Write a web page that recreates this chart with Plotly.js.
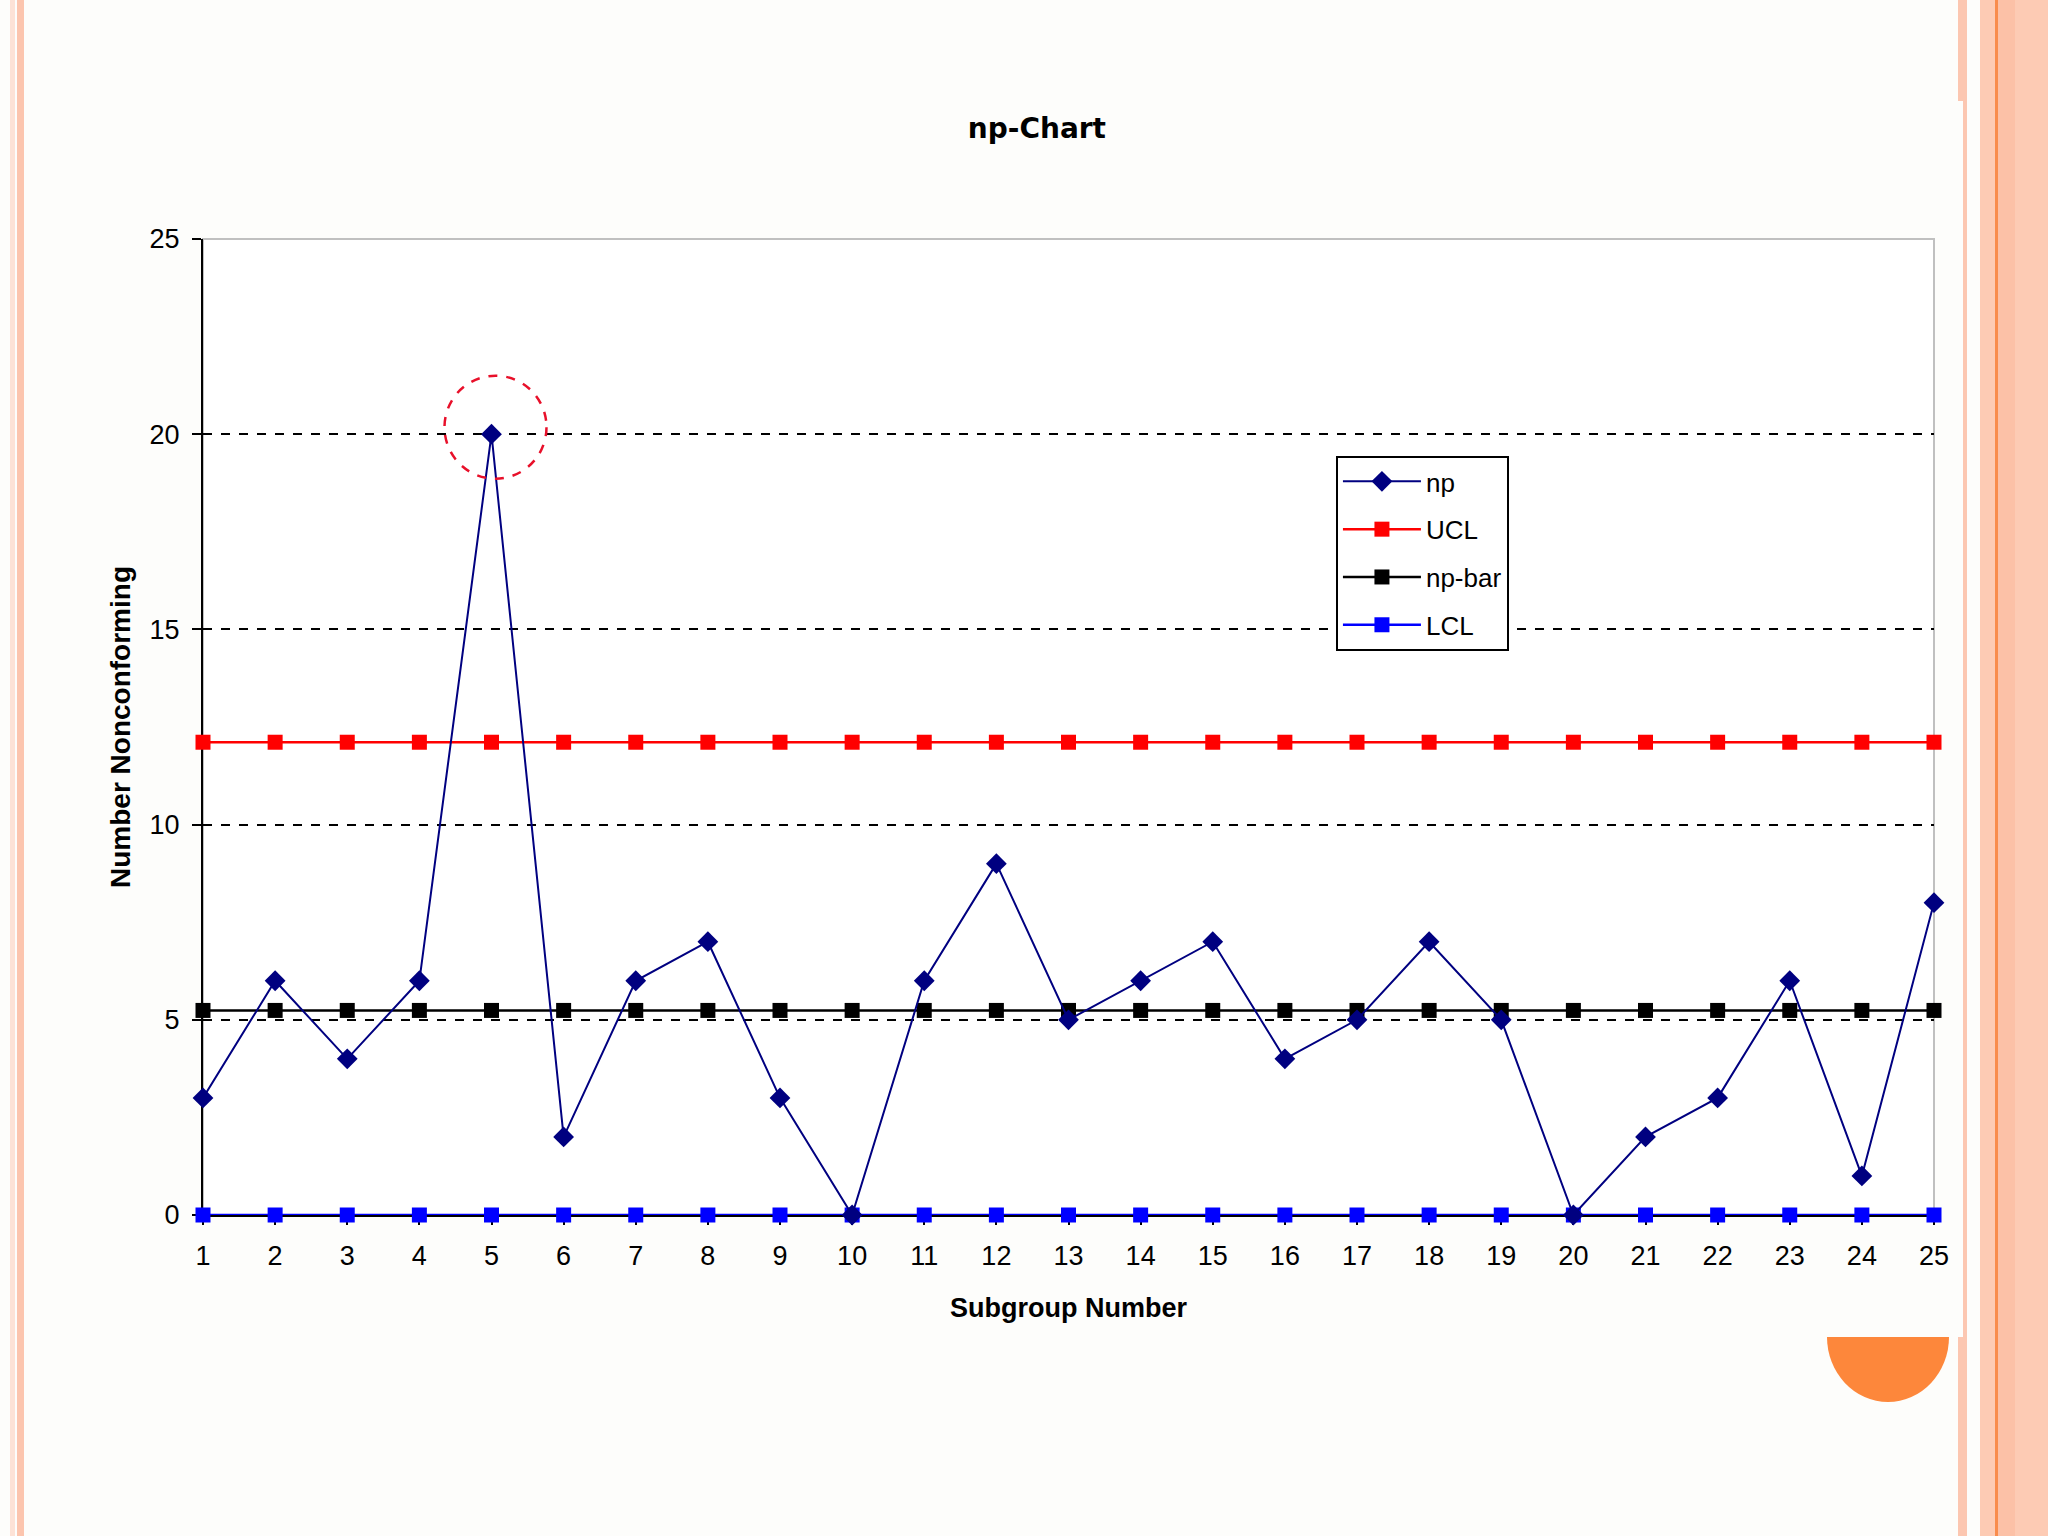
<!DOCTYPE html>
<html>
<head>
<meta charset="utf-8">
<script src="https://cdn.plot.ly/plotly-3.0.1.min.js"></script>
<style>
html,body{margin:0;padding:0;background:#fdfdfb;}
#wrap{position:relative;width:2048px;height:1536px;overflow:hidden;background:#fdfdfb;}
.deco{position:absolute;}
#chart{position:absolute;left:0;top:0;width:2048px;height:1536px;}
</style>
</head>
<body>
<div id="wrap">
  <div class="deco" style="left:10px;top:0;width:5px;height:1536px;background:#fde2d6;"></div>
  <div class="deco" style="left:17px;top:0;width:7px;height:1536px;background:#fcc5ae;"></div>
  <div class="deco" style="left:1958px;top:0;width:9px;height:101px;background:#fcc7b1;"></div>
  <div class="deco" style="left:1963px;top:101px;width:4px;height:1236px;background:#fcc7b1;"></div>
  <div class="deco" style="left:1958px;top:1337px;width:9px;height:199px;background:#fcc7b1;"></div>
  <div class="deco" style="left:1980px;top:0;width:68px;height:1536px;background:#fdcbb4;"></div>
  <div class="deco" style="left:1995px;top:0;width:3px;height:1536px;background:#f98c4c;"></div>
  <div class="deco" style="left:1998px;top:0;width:17px;height:1536px;background:#fcc1a7;"></div>
  <div class="deco" style="left:1827px;top:1337px;width:122px;height:65px;background:#fd873b;border-radius:0 0 61px 61px / 0 0 65px 65px;"></div>
  <div id="chart"></div>
</div>
<script>
// ---- data ----
const subgroups = [1,2,3,4,5,6,7,8,9,10,11,12,13,14,15,16,17,18,19,20,21,22,23,24,25];
const npValues = [3,6,4,6,20,2,6,7,3,0,6,9,5,6,7,4,5,7,5,0,2,3,6,1,8];
const uclValues = [12.11,12.11,12.11,12.11,12.11,12.11,12.11,12.11,12.11,12.11,12.11,12.11,12.11,12.11,12.11,12.11,12.11,12.11,12.11,12.11,12.11,12.11,12.11,12.11,12.11];
const npBarValues = [5.24,5.24,5.24,5.24,5.24,5.24,5.24,5.24,5.24,5.24,5.24,5.24,5.24,5.24,5.24,5.24,5.24,5.24,5.24,5.24,5.24,5.24,5.24,5.24,5.24];
const lclValues = [0,0,0,0,0,0,0,0,0,0,0,0,0,0,0,0,0,0,0,0,0,0,0,0,0];
const seriesNames = ["np","UCL","np-bar","LCL"];
const yTickValues = [0,5,10,15,20,25];
const chartTitle = "np-Chart";
const xTitle = "Subgroup Number";
const yTitle = "Number Nonconforming";

// out-of-control point (above UCL) gets highlighted
const outIdx = npValues.findIndex((v, i) => v > uclValues[i]);

const tickFont = {family: "Liberation Sans, Arial, sans-serif", size: 27, color: "#000000"};

const traces = [
  {x: subgroups, y: uclValues, name: seriesNames[1], mode: "lines+markers", legendgroup: "g2", legendrank: 2,
   line: {color: "#ff0000", width: 2.5}, marker: {symbol: "square", size: 15, color: "#ff0000"}, cliponaxis: false},
  {x: subgroups, y: npBarValues, name: seriesNames[2], mode: "lines+markers", legendgroup: "g3", legendrank: 3,
   line: {color: "#000000", width: 2.5}, marker: {symbol: "square", size: 15, color: "#000000"}, cliponaxis: false},
  {x: subgroups, y: lclValues, name: seriesNames[3], mode: "lines+markers", legendgroup: "g4", legendrank: 4,
   line: {color: "#0000ff", width: 2.5}, marker: {symbol: "square", size: 15, color: "#0000ff"}, cliponaxis: false},
  {x: subgroups, y: npValues, name: seriesNames[0], mode: "lines+markers", legendgroup: "g1", legendrank: 1,
   line: {color: "#000080", width: 2}, marker: {symbol: "diamond", size: 16, color: "#000080"}, cliponaxis: false}
];

const layout = {
  width: 2048, height: 1536,
  paper_bgcolor: "rgba(0,0,0,0)",
  plot_bgcolor: "#ffffff",
  margin: {l: 203, r: 114, t: 239, b: 321, pad: 0},
  showlegend: true,
  title: {text: chartTitle, x: 0.5063, xref: "container", xanchor: "center", y: 0.9167, yref: "container", yanchor: "middle",
          font: {family: "DejaVu Sans, sans-serif", size: 28, color: "#000000", weight: "bold"}},
  xaxis: {
    range: [1, 25], tickmode: "array", tickvals: subgroups, ticktext: subgroups.map(String),
    ticks: "outside", ticklen: 8, tickwidth: 2, tickcolor: "#000000",
    showline: true, linecolor: "#000000", linewidth: 2, layer: "below traces",
    showgrid: false, zeroline: false, tickfont: tickFont, ticklabelstandoff: 8,
    title: {text: xTitle, standoff: 28, font: {family: "Liberation Sans, Arial, sans-serif", size: 27, color: "#000000", weight: "bold"}}
  },
  yaxis: {
    range: [0, 25], tickmode: "array", tickvals: yTickValues,
    ticks: "outside", ticklen: 9, tickwidth: 2, tickcolor: "#000000",
    showline: true, linecolor: "#000000", linewidth: 2, layer: "below traces",
    showgrid: true, gridcolor: "#000000", gridwidth: 1.5, griddash: "dash",
    zeroline: false, tickfont: tickFont, ticklabelstandoff: 7,
    title: {text: yTitle, standoff: 11, font: {family: "Liberation Sans, Arial, sans-serif", size: 28, color: "#000000", weight: "bold"}}
  },
  legend: {
    x: 0.6545, y: 0.7777, xanchor: "left", yanchor: "top",
    bgcolor: "#ffffff", bordercolor: "#000000", borderwidth: 2,
    font: {family: "Liberation Sans, Arial, sans-serif", size: 26, color: "#000000"},
    traceorder: "grouped", tracegroupgap: 11, itemwidth: 78
  },
  shapes: [
    {type: "rect", xref: "paper", yref: "paper", x0: 0, x1: 1, y0: 0, y1: 1,
     line: {color: "#c0c0c0", width: 2}, layer: "below"},
    {type: "circle", xref: "x", yref: "y", xsizemode: "pixel", ysizemode: "pixel",
     xanchor: subgroups[outIdx], yanchor: npValues[outIdx],
     x0: -47, x1: 55, y0: -44.5, y1: 58.5,
     line: {color: "#e8102a", width: 2.5, dash: "dash"}, layer: "above"}
  ]
};

Plotly.newPlot("chart", traces, layout, {displayModeBar: false, responsive: false});
</script>
</body>
</html>
